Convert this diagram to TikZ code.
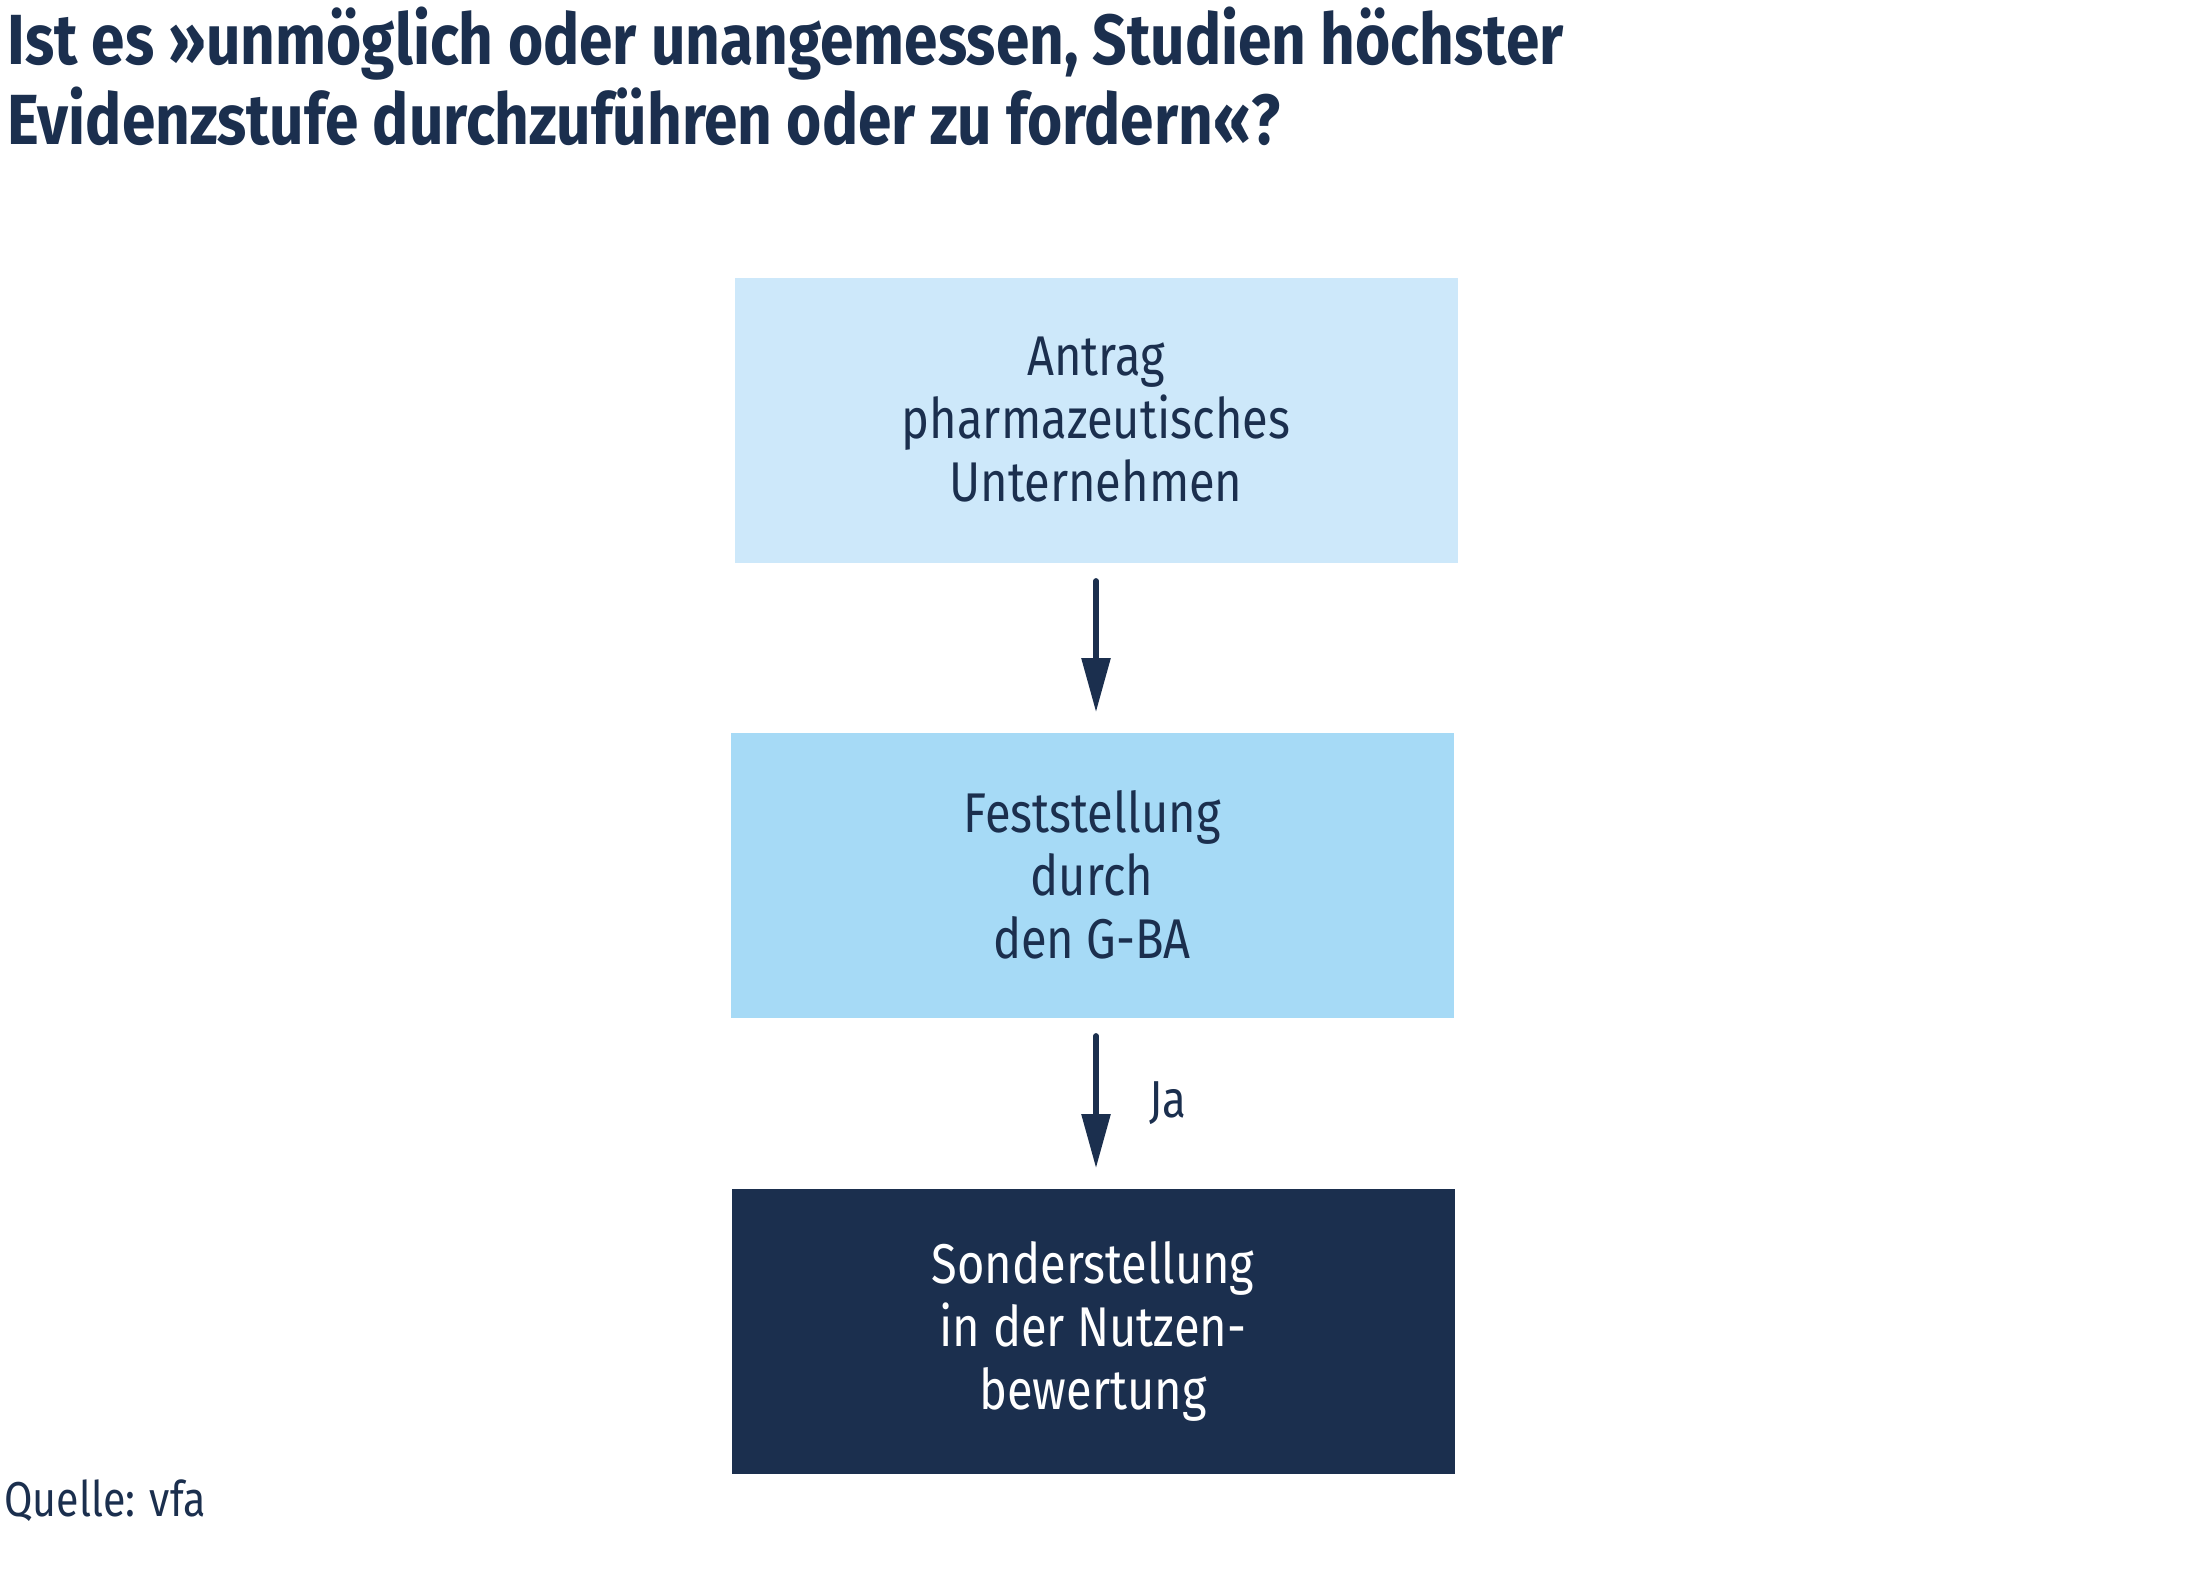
\documentclass[tikz,border=0pt]{standalone}
\usepackage{fontspec}
\setmainfont{Fira Sans}[FakeStretch=0.85]
\newfontfamily\bodyfont{Fira Sans}[FakeStretch=0.84]
\usetikzlibrary{arrows.meta, positioning}
\definecolor{vfanavy}{RGB}{27,47,78}
\definecolor{vfapale}{RGB}{205,232,250}
\definecolor{vfalight}{RGB}{166,218,246}

\begin{document}
\begin{tikzpicture}[x=0.5pt, y=-0.5pt,
        box/.style={minimum width=361.5pt, minimum height=142.5pt,
                    align=center, inner sep=0pt, text=vfanavy,
                    font=\bodyfont\fontsize{28}{31.5}\selectfont},
        flow/.style={draw=vfanavy, line width=2.8pt, line cap=round,
                     -{Triangle[length=27pt, width=14pt]},
                     shorten <=9pt, shorten >=10pt}]
      \useasboundingbox (0,0) rectangle (2190,1580);
      \node[anchor=north west, align=left, inner sep=0pt, text=vfanavy,
            font=\fontsize{35.5}{40}\selectfont\bfseries] (title) at (7,7)
            {Ist es »unmöglich oder unangemessen, Studien höchster\\
             Evidenzstufe durchzuführen oder zu fordern«?};
      \node[box, fill=vfapale]  (antrag) at (1096,420)
            {Antrag\\pharmazeutisches\\Unternehmen};
      \node[box, fill=vfalight] (gba)    at (1092,875)
            {Feststellung\\durch\\den G-BA};
      \node[box, fill=vfanavy, text=white] (sonder) at (1093,1331)
            {Sonderstellung\\in der Nutzen-\\bewertung};
      \node[anchor=west, inner sep=0pt, text=vfanavy,
            font=\bodyfont\fontsize{24.5}{28}\selectfont] (quelle) at (4,1501) {Quelle: vfa};
      \draw[flow] (antrag.south) -- (antrag.south |- gba.north);
      \draw[flow] (antrag.south |- gba.south) -- node[right=22pt, text=vfanavy,
            font=\bodyfont\fontsize{26}{30}\selectfont]{Ja} (antrag.south |- sonder.north);
    \end{tikzpicture}
\end{document}
